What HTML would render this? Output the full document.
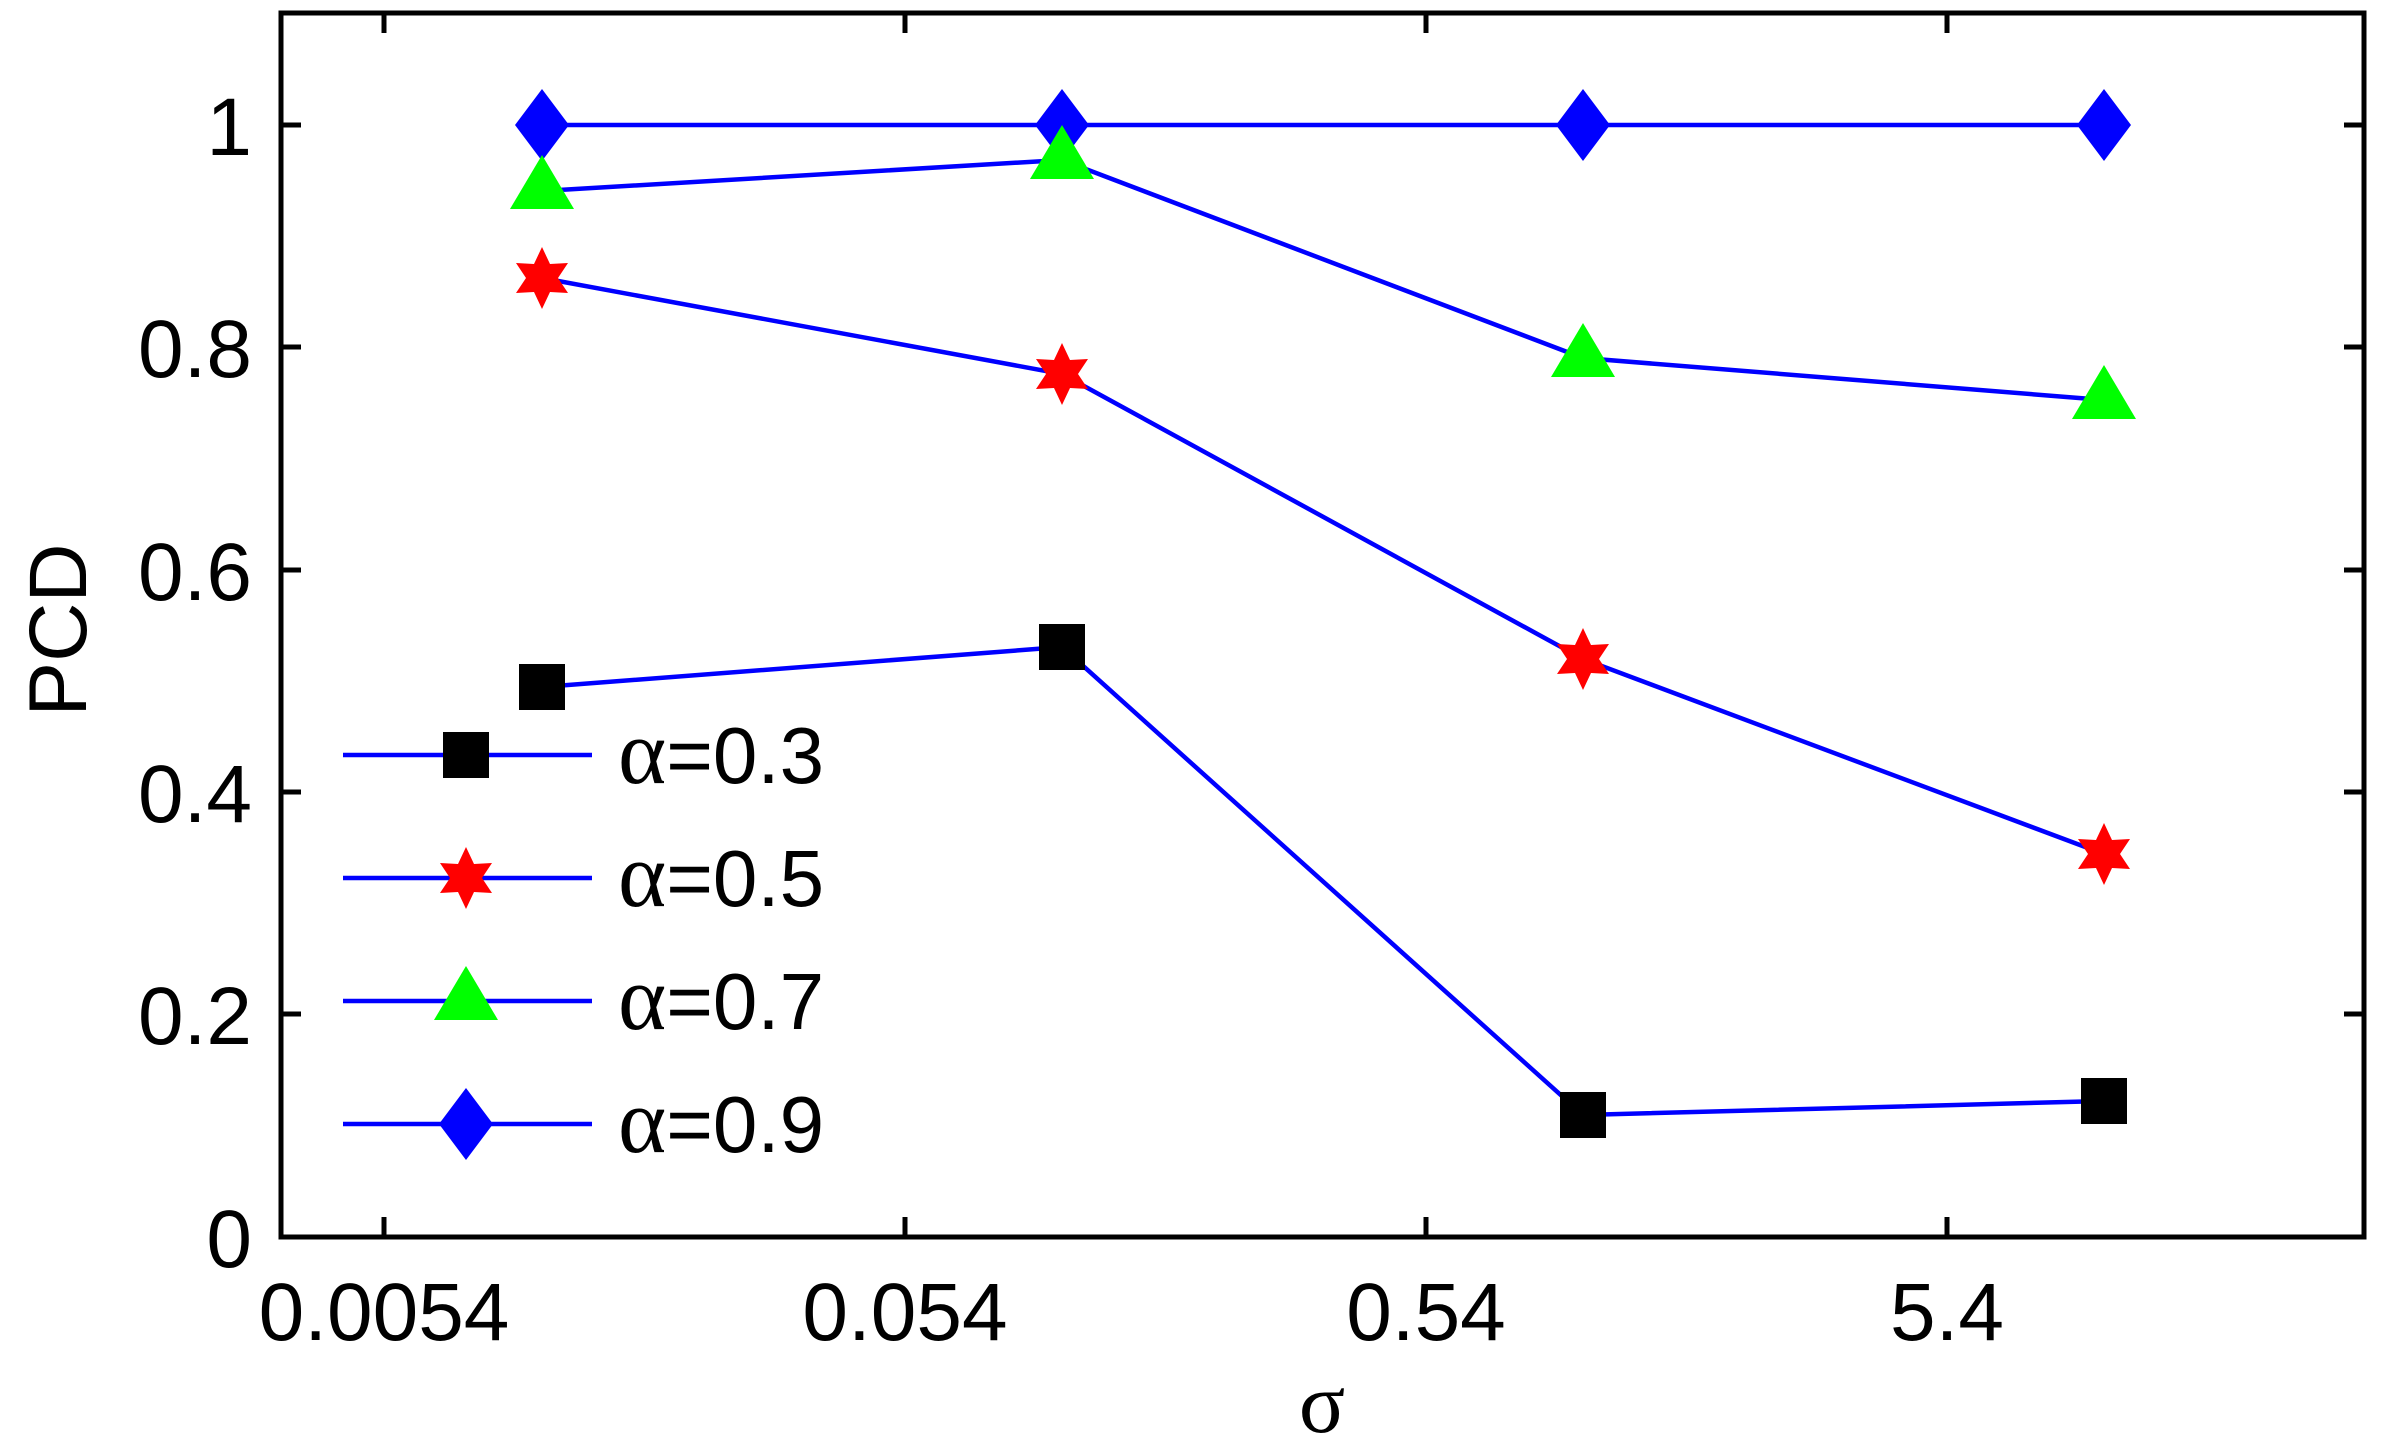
<!DOCTYPE html>
<html><head><style>body{margin:0;background:#fff}</style></head><body>
<svg width="2382" height="1451" xmlns="http://www.w3.org/2000/svg" font-family="Liberation Sans, sans-serif">
<defs>
<rect id="sq" x="-23" y="-23" width="46" height="46" fill="#000"/>
<polygon id="st" points="0,-31 8,-14 26,-15 16,0 26,15 8,14 0,31 -8,14 -26,15 -16,0 -26,-15 -8,-14" fill="#f00"/>
<polygon id="tr" points="0,-30 32,24 -32,24" fill="#0f0"/>
<polygon id="di" points="0,-36 27,0 0,36 -27,0" fill="#00f"/>
</defs>
<g stroke="#000" stroke-width="5" fill="none">
<rect x="281" y="13" width="2083" height="1224"/>
<path d="M384 1237v-20M905 1237v-20M1426 1237v-20M1947 1237v-20M384 13v20M905 13v20M1426 13v20M1947 13v20"/>
<path d="M281 1237h20M281 1014h20M281 792h20M281 570h20M281 347h20M281 125h20M2364 1237h-20M2364 1014h-20M2364 792h-20M2364 570h-20M2364 347h-20M2364 125h-20"/>
</g>
<g font-size="82" text-anchor="end">
<text x="252" y="1267">0</text><text x="252" y="1044">0.2</text><text x="252" y="822">0.4</text><text x="252" y="600">0.6</text><text x="252" y="377">0.8</text><text x="252" y="155">1</text>
</g>
<g font-size="82" text-anchor="middle">
<text x="384" y="1340">0.0054</text><text x="905" y="1340">0.054</text><text x="1426" y="1340">0.54</text><text x="1947" y="1340">5.4</text>
</g>
<text x="1322" y="1432" font-size="86" text-anchor="middle" font-family="Liberation Serif, serif">σ</text>
<text transform="translate(86,630) rotate(-90)" font-size="82" text-anchor="middle">PCD</text>
<g stroke="#00f" stroke-width="4.5" fill="none">
<polyline points="542,125 1062,125 1583,125 2104,125"/>
<polyline points="542,191 1062,160 1583,358 2104,400"/>
<polyline points="542,278 1062,374 1583,659 2104,854"/>
<polyline points="542,687 1062,647 1583,1115 2104,1101"/>
<path d="M343 755h249M343 878h249M343 1001h249M343 1124h249"/>
</g>
<use href="#di" x="542" y="125"/><use href="#di" x="1062" y="125"/><use href="#di" x="1583" y="125"/><use href="#di" x="2104" y="125"/>
<use href="#tr" x="542" y="185"/><use href="#tr" x="1062" y="155"/><use href="#tr" x="1583" y="353"/><use href="#tr" x="2104" y="395"/>
<use href="#st" x="542" y="278"/><use href="#st" x="1062" y="374"/><use href="#st" x="1583" y="659"/><use href="#st" x="2104" y="854"/>
<use href="#sq" x="542" y="687"/><use href="#sq" x="1062" y="647"/><use href="#sq" x="1583" y="1115"/><use href="#sq" x="2104" y="1101"/>
<use href="#sq" x="466" y="755"/><use href="#st" x="466" y="878"/><use href="#tr" x="466" y="996"/><use href="#di" x="466" y="1124"/>
<g font-size="80">
<text x="618" y="783"><tspan font-family="Liberation Serif, serif" font-size="92">α</tspan>=0.3</text>
<text x="618" y="906"><tspan font-family="Liberation Serif, serif" font-size="92">α</tspan>=0.5</text>
<text x="618" y="1029"><tspan font-family="Liberation Serif, serif" font-size="92">α</tspan>=0.7</text>
<text x="618" y="1152"><tspan font-family="Liberation Serif, serif" font-size="92">α</tspan>=0.9</text>
</g>
</svg>
</body></html>
